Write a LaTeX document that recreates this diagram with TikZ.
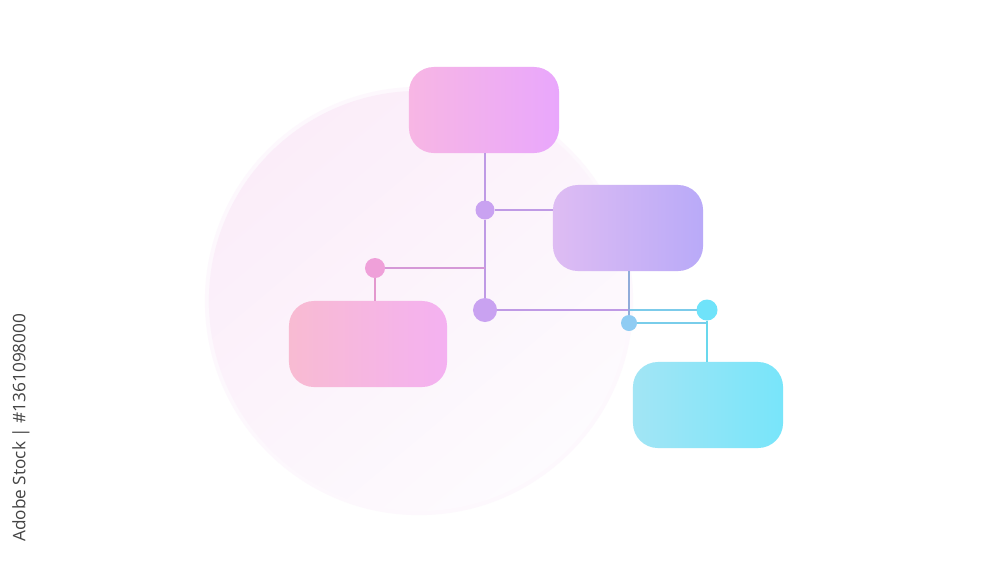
\documentclass[tikz,border=0pt]{standalone}
\usepackage{fontspec}
\setsansfont{Open Sans}
\usepackage{tikz}
\usepackage{color}
\definecolor{topL}{HTML}{F7B6E4}
\definecolor{topR}{HTML}{E9A7FC}
\definecolor{vioL}{HTML}{DEBCF3}
\definecolor{vioR}{HTML}{B9AAF8}
\definecolor{pinkL}{HTML}{F8BBD2}
\definecolor{pinkR}{HTML}{F4B1F1}
\definecolor{cyanL}{HTML}{A2E5F5}
\definecolor{cyanR}{HTML}{78E5FA}
\definecolor{lilac}{HTML}{C9A2F1}
\definecolor{rose}{HTML}{EFA0D9}
\definecolor{sky}{HTML}{8FCCF3}
\definecolor{aqua}{HTML}{6FE3FA}
\definecolor{halo}{HTML}{FBEDF9}
\definecolor{ghost}{HTML}{FDFBFE}
\definecolor{wmark}{HTML}{444444}

\begin{document}
\begin{tikzpicture}[x=0.01cm,y=-0.01cm,
		box/.style={rounded corners=0.25cm,minimum width=1.5cm,minimum height=0.86cm,inner sep=0,outer sep=0},
		dot/.style={circle,inner sep=0,outer sep=0,minimum size=#1},
		link/.style={line width=0.45pt}]
		\useasboundingbox (0,0) rectangle (1000,560);
		\fill[white] (0,0) rectangle (1000,560);
		\fill[halo!40] (419,301) circle (2.14cm);
		\shade[top color=halo,bottom color=ghost,shading angle=40] (419,301) circle (2.1cm);
		\node[box,left color=topL,right color=topR] (top) at (484,110) {};
		\node[box,left color=vioL,right color=vioR] (vio) at (628,228) {};
		\node[box,minimum width=1.58cm,left color=pinkL,right color=pinkR] (pink) at (368,344) {};
		\node[box,left color=cyanL,right color=cyanR] (cyan) at (708,405) {};
		\node[dot=0.19cm,fill=lilac] (djoin) at (485,210) {};
		\node[dot=0.24cm,fill=lilac] (dhub) at (485,310) {};
		\node[dot=0.20cm,fill=rose] (dpink) at (375,268) {};
		\node[dot=0.16cm,fill=sky] (dsky) at (629,323) {};
		\node[dot=0.21cm,fill=aqua] (dcyan) at (707,310) {};
		\draw[link,color=lilac!95!black] (top.south -| djoin) -- (djoin) -- (dhub);
		\draw[link,color=lilac!95!black] (djoin) -- (djoin -| vio.west);
		\draw[link,color=rose!60!lilac!95!black] (dpink) -- (dpink -| djoin);
		\draw[link,color=rose!95!black] (dpink) -- (dpink |- pink.north);
		\draw[link,color=lilac!95!black] (dhub) -- (dsky |- dhub);
		\draw[link,color=sky!60!aqua!95!black] (dsky |- dhub) -- (dcyan);
		\draw[link,color=sky!70!lilac!90!black] (vio.south -| dsky) -- (dsky);
		\draw[link,color=sky!50!aqua!95!black] (dsky) -- (dcyan |- dsky);
		\draw[link,color=aqua!95!black] (dcyan) -- (dcyan |- cyan.north);
		\node[rotate=90,anchor=east,inner sep=0,text=wmark,font=\sffamily\fontsize{4.9pt}{5pt}\selectfont] (credit) at (21,313) {Adobe Stock | \#1361098000};
	\end{tikzpicture}
\end{document}
